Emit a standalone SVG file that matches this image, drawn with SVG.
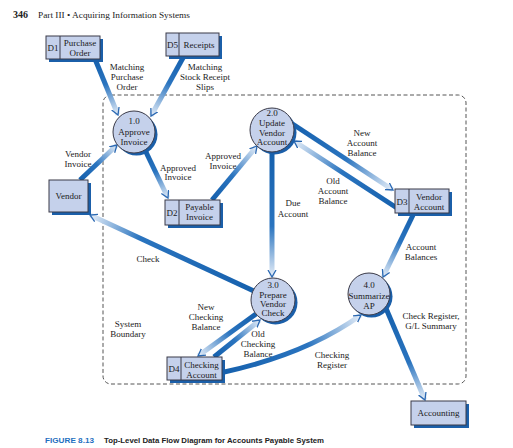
<svg xmlns="http://www.w3.org/2000/svg" width="513" height="448" viewBox="0 0 513 448">
<style>
.lbl{font-family:"Liberation Serif","Times New Roman",serif;font-size:9px;fill:#222;text-anchor:middle}
.nt{font-family:"Liberation Serif","Times New Roman",serif;font-size:9px;fill:#1a1a1a;text-anchor:middle}
.box{fill:#c5d1eb;stroke:#3a3a48;stroke-width:1}
.sh{fill:#1b5fa9}
.flow{fill:none;stroke-width:5;stroke-linecap:butt}
.bnd{fill:none;stroke:#555;stroke-width:1;stroke-dasharray:4 2.5}
</style>
<defs>
<marker id="ah" markerUnits="userSpaceOnUse" markerWidth="12" markerHeight="12" refX="7" refY="4.5" orient="auto">
<path d="M0,0.5 L7,4.5 L0,8.5" fill="none" stroke="#2a68b2" stroke-width="1.3"/>
</marker>
<linearGradient id="g1" gradientUnits="userSpaceOnUse" x1="95" y1="59" x2="118" y2="115"><stop offset="0" stop-color="#1560ad"/><stop offset="0.45" stop-color="#2a74bf"/><stop offset="1" stop-color="#e6eef8"/></linearGradient>
<linearGradient id="g2" gradientUnits="userSpaceOnUse" x1="184" y1="56" x2="151" y2="116"><stop offset="0" stop-color="#1560ad"/><stop offset="0.45" stop-color="#2a74bf"/><stop offset="1" stop-color="#e6eef8"/></linearGradient>
<linearGradient id="g3" gradientUnits="userSpaceOnUse" x1="80" y1="180" x2="117" y2="145"><stop offset="0" stop-color="#1560ad"/><stop offset="0.45" stop-color="#2a74bf"/><stop offset="1" stop-color="#e6eef8"/></linearGradient>
<linearGradient id="g4" gradientUnits="userSpaceOnUse" x1="145" y1="150" x2="168" y2="198"><stop offset="0" stop-color="#1560ad"/><stop offset="0.45" stop-color="#2a74bf"/><stop offset="1" stop-color="#e6eef8"/></linearGradient>
<linearGradient id="g5" gradientUnits="userSpaceOnUse" x1="212" y1="200" x2="257" y2="146"><stop offset="0" stop-color="#1560ad"/><stop offset="0.45" stop-color="#2a74bf"/><stop offset="1" stop-color="#e6eef8"/></linearGradient>
<linearGradient id="g6" gradientUnits="userSpaceOnUse" x1="288" y1="121" x2="393" y2="190"><stop offset="0" stop-color="#1560ad"/><stop offset="0.55" stop-color="#2a74bf"/><stop offset="1" stop-color="#e6eef8"/></linearGradient>
<linearGradient id="g7" gradientUnits="userSpaceOnUse" x1="400" y1="210" x2="294" y2="141"><stop offset="0" stop-color="#1560ad"/><stop offset="0.55" stop-color="#2a74bf"/><stop offset="1" stop-color="#e6eef8"/></linearGradient>
<linearGradient id="g8" gradientUnits="userSpaceOnUse" x1="272" y1="150" x2="272" y2="277"><stop offset="0" stop-color="#1560ad"/><stop offset="0.6" stop-color="#2a74bf"/><stop offset="1" stop-color="#e6eef8"/></linearGradient>
<linearGradient id="g9" gradientUnits="userSpaceOnUse" x1="414" y1="213" x2="383" y2="277"><stop offset="0" stop-color="#1560ad"/><stop offset="0.45" stop-color="#2a74bf"/><stop offset="1" stop-color="#e6eef8"/></linearGradient>
<linearGradient id="g10" gradientUnits="userSpaceOnUse" x1="385" y1="306" x2="425" y2="400"><stop offset="0" stop-color="#1560ad"/><stop offset="0.6" stop-color="#2a74bf"/><stop offset="1" stop-color="#e6eef8"/></linearGradient>
<linearGradient id="g11" gradientUnits="userSpaceOnUse" x1="256" y1="292" x2="90" y2="215"><stop offset="0" stop-color="#1560ad"/><stop offset="0.7" stop-color="#2a74bf"/><stop offset="1" stop-color="#e6eef8"/></linearGradient>
<linearGradient id="g12" gradientUnits="userSpaceOnUse" x1="256" y1="314" x2="198" y2="356"><stop offset="0" stop-color="#1560ad"/><stop offset="0.45" stop-color="#2a74bf"/><stop offset="1" stop-color="#e6eef8"/></linearGradient>
<linearGradient id="g13" gradientUnits="userSpaceOnUse" x1="214" y1="357" x2="260" y2="320"><stop offset="0" stop-color="#1560ad"/><stop offset="0.45" stop-color="#2a74bf"/><stop offset="1" stop-color="#e6eef8"/></linearGradient>
<linearGradient id="g14" gradientUnits="userSpaceOnUse" x1="220" y1="373" x2="361" y2="315"><stop offset="0" stop-color="#1560ad"/><stop offset="0.6" stop-color="#2a74bf"/><stop offset="1" stop-color="#e6eef8"/></linearGradient>
</defs>
<rect width="513" height="448" fill="#fff"/>

<!-- header -->
<text x="13" y="18" font-family="Liberation Serif, serif" font-size="10" font-weight="bold" fill="#222">346</text>
<text x="38" y="18" font-family="Liberation Serif, serif" font-size="9" fill="#222" textLength="152" lengthAdjust="spacingAndGlyphs">Part III • Acquiring Information Systems</text>

<!-- system boundary -->
<rect class="bnd" x="103" y="95" width="363" height="289" rx="8"/>

<g id="connectors">
<line class="flow" stroke="url(#g1)" x1="95" y1="59" x2="118" y2="115" marker-end="url(#ah)"/>
<line class="flow" stroke="url(#g2)" x1="184" y1="56" x2="151" y2="116" marker-end="url(#ah)"/>
<line class="flow" stroke="url(#g3)" x1="80" y1="180" x2="117" y2="145" marker-end="url(#ah)"/>
<line class="flow" stroke="url(#g4)" x1="145" y1="150" x2="168" y2="198" marker-end="url(#ah)"/>
<line class="flow" stroke="url(#g5)" x1="212" y1="200" x2="257" y2="146" marker-end="url(#ah)"/>
<line class="flow" stroke="url(#g6)" x1="288" y1="121" x2="393" y2="190" marker-end="url(#ah)"/>
<line class="flow" stroke="url(#g7)" x1="400" y1="210" x2="294" y2="141" marker-end="url(#ah)"/>
<line class="flow" stroke="url(#g8)" x1="272" y1="150" x2="272" y2="277" marker-end="url(#ah)"/>
<line class="flow" stroke="url(#g9)" x1="414" y1="213" x2="383" y2="277" marker-end="url(#ah)"/>
<line class="flow" stroke="url(#g10)" x1="385" y1="306" x2="425" y2="400" marker-end="url(#ah)"/>
<line class="flow" stroke="url(#g11)" x1="256" y1="292" x2="90" y2="215" marker-end="url(#ah)"/>
<line class="flow" stroke="url(#g12)" x1="256" y1="314" x2="198" y2="356" marker-end="url(#ah)"/>
<line class="flow" stroke="url(#g13)" x1="214" y1="357" x2="260" y2="320" marker-end="url(#ah)"/>
<path class="flow" stroke="url(#g14)" d="M220,373 Q305,355 361,315" marker-end="url(#ah)"/>
</g>

<g id="D1">
<rect class="sh" x="49" y="39" width="54" height="23"/>
<rect class="box" x="46" y="36" width="54" height="23"/>
<line x1="60" y1="36" x2="60" y2="59" stroke="#3a3a48"/>
<text class="nt" x="53" y="51">D1</text>
<text class="nt" x="80" y="46">Purchase</text>
<text class="nt" x="80" y="56">Order</text>
</g>
<g id="D5">
<rect class="sh" x="169" y="36" width="53" height="23"/>
<rect class="box" x="166" y="33" width="53" height="23"/>
<line x1="179" y1="33" x2="179" y2="56" stroke="#3a3a48"/>
<text class="nt" x="172.5" y="48">D5</text>
<text class="nt" x="199" y="48">Receipts</text>
</g>
<g id="P1">
<circle class="sh" cx="136.5" cy="134.5" r="21"/>
<circle class="box" cx="134" cy="132" r="21"/>
<text class="nt" x="134" y="124">1.0</text>
<text class="nt" x="134" y="135">Approve</text>
<text class="nt" x="134" y="145">Invoice</text>
</g>
<g id="P2">
<circle class="sh" cx="274.5" cy="132.5" r="22"/>
<circle class="box" cx="272" cy="130" r="22"/>
<text class="nt" x="272" y="116">2.0</text>
<text class="nt" x="272" y="126">Update</text>
<text class="nt" x="272" y="136">Vendor</text>
<text class="nt" x="272" y="145">Account</text>
</g>
<g id="Vendor">
<rect class="sh" x="52" y="183" width="39" height="32"/>
<rect class="box" x="49" y="180" width="39" height="32"/>
<text class="nt" x="68.5" y="199">Vendor</text>
</g>
<g id="D2">
<rect class="sh" x="168" y="203" width="55" height="25"/>
<rect class="box" x="165" y="200" width="55" height="25"/>
<line x1="179" y1="200" x2="179" y2="225" stroke="#3a3a48"/>
<text class="nt" x="172" y="216">D2</text>
<text class="nt" x="199.5" y="210">Payable</text>
<text class="nt" x="199.5" y="220">Invoice</text>
</g>
<g id="D3">
<rect class="sh" x="398" y="192" width="54" height="24"/>
<rect class="box" x="395" y="189" width="54" height="24"/>
<line x1="409" y1="189" x2="409" y2="213" stroke="#3a3a48"/>
<text class="nt" x="402" y="205">D3</text>
<text class="nt" x="429" y="200">Vendor</text>
<text class="nt" x="429" y="209.5">Account</text>
</g>
<g id="P3">
<circle class="sh" cx="275.5" cy="302.5" r="22"/>
<circle class="box" cx="273" cy="300" r="22"/>
<text class="nt" x="273" y="288">3.0</text>
<text class="nt" x="273" y="298">Prepare</text>
<text class="nt" x="273" y="307">Vendor</text>
<text class="nt" x="273" y="316">Check</text>
</g>
<g id="P4">
<circle class="sh" cx="371.5" cy="296.5" r="21"/>
<circle class="box" cx="369" cy="294" r="21"/>
<text class="nt" x="369" y="288">4.0</text>
<text class="nt" x="369" y="299">Summarize</text>
<text class="nt" x="369" y="309">AP</text>
</g>
<g id="D4">
<rect class="sh" x="170" y="360" width="55" height="23"/>
<rect class="box" x="167" y="357" width="55" height="23"/>
<line x1="181" y1="357" x2="181" y2="380" stroke="#3a3a48"/>
<text class="nt" x="174" y="372">D4</text>
<text class="nt" x="201.5" y="368">Checking</text>
<text class="nt" x="201.5" y="377.5">Account</text>
</g>
<g id="Accounting">
<rect class="sh" x="414" y="404" width="55" height="24"/>
<rect class="box" x="411" y="401" width="55" height="24"/>
<text class="nt" x="438.5" y="416">Accounting</text>
</g>

<g id="labels">
<text class="lbl" x="127" y="70">Matching</text>
<text class="lbl" x="127" y="80">Purchase</text>
<text class="lbl" x="127" y="90">Order</text>
<text class="lbl" x="205" y="70">Matching</text>
<text class="lbl" x="205" y="80">Stock Receipt</text>
<text class="lbl" x="205" y="90">Slips</text>
<text class="lbl" x="78" y="157">Vendor</text>
<text class="lbl" x="78" y="167">Invoice</text>
<text class="lbl" x="178" y="171">Approved</text>
<text class="lbl" x="178" y="180">Invoice</text>
<text class="lbl" x="223" y="159">Approved</text>
<text class="lbl" x="223" y="169">Invoice</text>
<text class="lbl" x="362" y="136">New</text>
<text class="lbl" x="362" y="146">Account</text>
<text class="lbl" x="362" y="156">Balance</text>
<text class="lbl" x="333" y="184">Old</text>
<text class="lbl" x="333" y="194">Account</text>
<text class="lbl" x="333" y="204">Balance</text>
<text class="lbl" x="293" y="206">Due</text>
<text class="lbl" x="293" y="217">Account</text>
<text class="lbl" x="421" y="250">Account</text>
<text class="lbl" x="421" y="260">Balances</text>
<text class="lbl" x="148" y="262">Check</text>
<text class="lbl" x="206" y="310">New</text>
<text class="lbl" x="206" y="320">Checking</text>
<text class="lbl" x="206" y="330">Balance</text>
<text class="lbl" x="128" y="327">System</text>
<text class="lbl" x="128" y="337">Boundary</text>
<text class="lbl" x="258" y="337">Old</text>
<text class="lbl" x="258" y="347">Checking</text>
<text class="lbl" x="258" y="357">Balance</text>
<text class="lbl" x="332" y="358">Checking</text>
<text class="lbl" x="332" y="368">Register</text>
<text class="lbl" x="431" y="319">Check Register,</text>
<text class="lbl" x="431" y="329">G/L Summary</text>
</g>

<!-- caption -->
<text x="45" y="443" font-family="Liberation Sans, Arial, sans-serif" font-size="8" font-weight="bold" fill="#1f6fc0" textLength="49" lengthAdjust="spacingAndGlyphs">FIGURE 8.13</text>
<text x="104" y="443" font-family="Liberation Sans, Arial, sans-serif" font-size="8" font-weight="bold" fill="#222" textLength="220" lengthAdjust="spacingAndGlyphs">Top-Level Data Flow Diagram for Accounts Payable System</text>
</svg>
